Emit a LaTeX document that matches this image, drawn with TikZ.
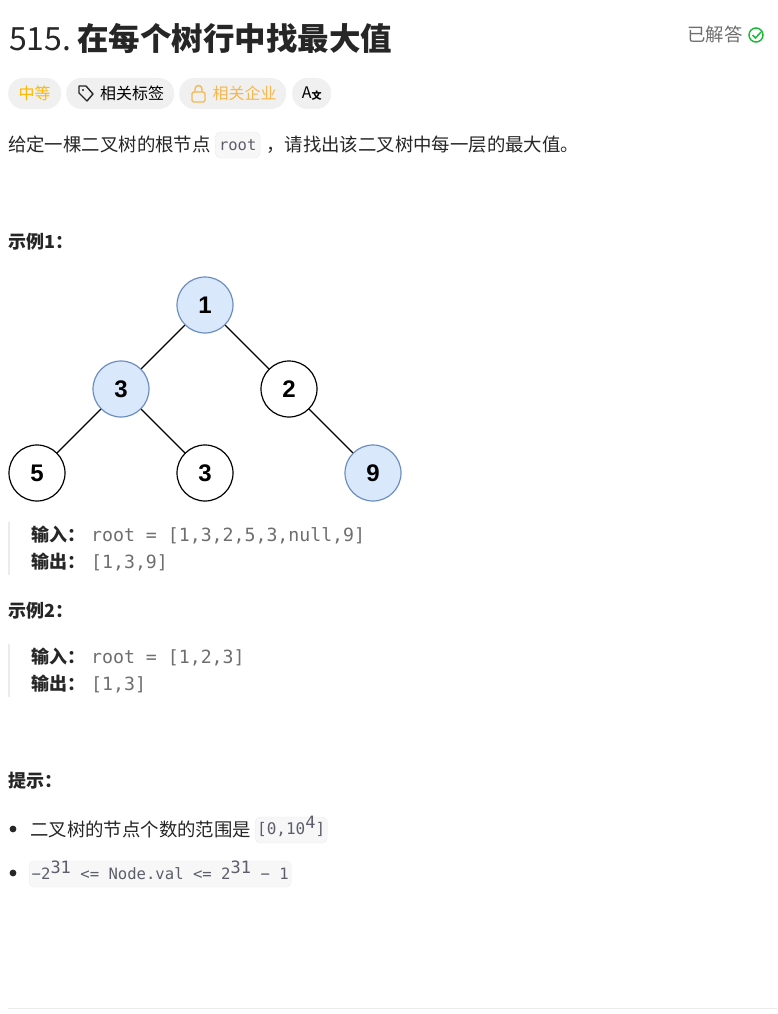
\documentclass[tikz,border=0pt]{standalone}
\usepackage{fontspec}
\usepackage{xcolor}
\setmainfont{Noto Sans CJK SC}
\setmonofont{DejaVu Sans Mono}
\newfontfamily\arialfont{Liberation Sans}
\definecolor{ink}{HTML}{262626}
\definecolor{chipfill}{HTML}{F0F0F0}
\definecolor{codefill}{HTML}{F7F7F8}
\definecolor{codeline}{HTML}{EBEBEB}
\definecolor{codeink}{HTML}{5C5F6B}
\definecolor{valink}{HTML}{6E6E6E}
\definecolor{amberink}{HTML}{FFB800}
\definecolor{paleamber}{HTML}{F5B74E}
\definecolor{okgreen}{HTML}{1CBA3A}
\definecolor{nodefill}{HTML}{DAE8FC}
\definecolor{nodeline}{HTML}{6C8EBF}
\newcommand{\sz}[1]{\fontsize{#1}{#1}\selectfont}
\newcommand{\up}[1]{\smash{\raisebox{6pt}{\sz{17}#1}}}
\begin{document}
\begin{tikzpicture}[x=1pt,y=-1pt]
\tikzstyle{txt}=[inner sep=0pt,anchor=base west,text=ink,font=\sz{18.4}]
\tikzstyle{head}=[txt,font=\sz{18}\bfseries]
\tikzstyle{val}=[txt,text=valink,font=\sz{18.2}\ttfamily]
\tikzstyle{chip}=[rectangle,rounded corners=15pt,fill=chipfill,minimum height=31pt,inner sep=0pt,anchor=west,font=\sz{16}]
\tikzstyle{codebox}=[rectangle,rounded corners=5pt,draw=codeline,fill=codefill,text=codeink,inner sep=0pt,minimum height=26pt,anchor=west,font=\sz{15.5}\ttfamily]
\tikzstyle{tree}=[circle,draw=black,fill=white,line width=1.2pt,minimum size=56pt,inner sep=0pt,font=\sz{24}\arialfont\bfseries]
\tikzstyle{maxval}=[tree,draw=nodeline,fill=nodefill]
\useasboundingbox (0,0) rectangle (777,1014);
% heading
\node[txt,font=\sz{32}] (num) at (9,51) {515.};
\node[txt,font=\sz{31.5}\bfseries] (title) at (77,51) {在每个树行中找最大值};
\node[txt,text=valink] (done) at (687,42) {已解答};
\draw[okgreen,line width=1.5pt] (756,35) circle (7);
\draw[okgreen,line width=1.5pt] (752.5,35) -- (755.5,38) -- (761,32);
% chips
\node[chip,minimum width=53pt,text=amberink] (level) at (8,93.5) {中等};
\node[chip,minimum width=108pt] (tags) at (66,93.5) {\hspace*{24pt}相关标签};
\node[chip,minimum width=107pt,text=paleamber] (firms) at (179,93.5) {\hspace*{24pt}相关企业};
\node[chip,minimum width=39pt] (lang) at (292,93.5) {A\raisebox{-1pt}{\sz{10}\bfseries 文}};
\draw[ink,line width=1.4pt,line join=round] (79,86) -- (86,86) -- (93,94) -- (87,101) -- (79,93) -- cycle;
\fill[ink] (83,90) circle (1.2);
\draw[paleamber,line width=1.4pt,rounded corners=1.5pt] (192,92) rectangle (205,102);
\draw[paleamber,line width=1.4pt] (195,92) -- (195,89) arc[start angle=180,end angle=360,radius=3.5] -- (202,92);
% question
\node[txt] (ask) at (8,151) {给定一棵二叉树的根节点};
\node[codebox,minimum width=45pt] (rootcode) at (215,145) {root};
\node[txt] (ask2) at (266,151) {，请找出该二叉树中每一层的最大值。};
% first example
\node[head] (ex1) at (8,248) {示例1：};
\node[maxval] (a) at (205,305) {1};
\node[maxval] (b) at (121,389) {3};
\node[tree] (c) at (289,389) {2};
\node[tree] (d) at (37,473) {5};
\node[tree] (e) at (205,473) {3};
\node[maxval] (f) at (373,473) {9};
\draw[line width=1.2pt] (a) -- (b);
\draw[line width=1.2pt] (a) -- (c);
\draw[line width=1.2pt] (b) -- (d);
\draw[line width=1.2pt] (b) -- (e);
\draw[line width=1.2pt] (c) -- (f);
\fill[codeline] (8,522) rectangle (10,575);
\node[head] (in1) at (31,541) {输入：};
\node[val] (in1v) at (91,541) {root = [1,3,2,5,3,null,9]};
\node[head] (out1) at (31,568) {输出：};
\node[val] (out1v) at (91,568) {[1,3,9]};
% second example
\node[head] (ex2) at (8,617) {示例2：};
\fill[codeline] (8,644) rectangle (10,697);
\node[head] (in2) at (31,663) {输入：};
\node[val] (in2v) at (91,663) {root = [1,2,3]};
\node[head] (out2) at (31,690) {输出：};
\node[val] (out2v) at (91,690) {[1,3]};
% hints
\node[head] (hint) at (8,787) {提示：};
\fill[ink] (13,829) circle (3.4);
\node[txt] (rng) at (30,836) {二叉树的节点个数的范围是};
\node[codebox,minimum width=72pt,font=\sz{16}\ttfamily] (rngcode) at (255,830) {[0,10\up{4}]};
\fill[ink] (13,873) circle (3.4);
\node[codebox,minimum width=262pt,font=\sz{15.6}\ttfamily] (valcode) at (29,874) {−2\up{31} <= Node.val <= 2\up{31} − 1};
\draw[codeline] (8,1008) -- (777,1008);
\end{tikzpicture}
\end{document}
